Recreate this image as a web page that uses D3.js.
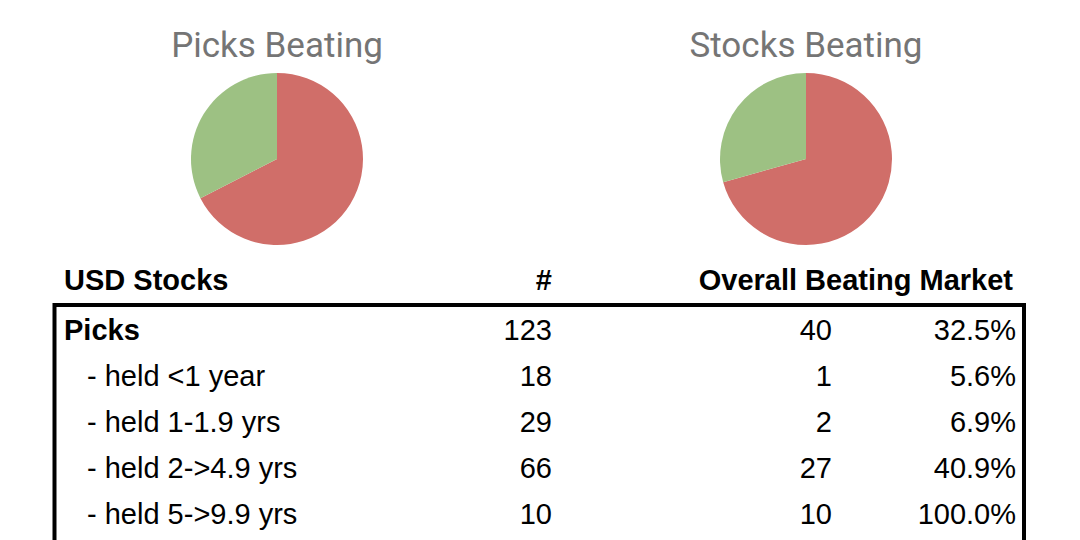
<!DOCTYPE html>
<html>
<head>
<meta charset="utf-8">
<script src="https://cdn.jsdelivr.net/npm/d3@7"></script>
<style>
  body { margin: 0; background: #fff; }
</style>
</head>
<body>
<svg id="chart" width="1080" height="540"></svg>
<script>
// pie charts: [not beating, beating]
const pieTitles = ["Picks Beating", "Stocks Beating"];
const picksSplit = [83, 40];
const stocksSplit = [65, 27];

// table
const headerLabels = ["USD Stocks", "#", "Overall Beating Market"];
const rowLabels = ["Picks", "- held <1 year", "- held 1-1.9 yrs", "- held 2->4.9 yrs", "- held 5->9.9 yrs"];
const rowCounts = [123, 18, 29, 66, 10];
const rowBeating = [40, 1, 2, 27, 10];

var svg = d3.select("#chart");
const W = +svg.attr("width");
const H = +svg.attr("height");

var sliceColor = d3.scaleOrdinal().domain([0, 1]).range(["#d06e69", "#9dc183"]);
var pie = d3.pie().sort(null).value((d) => d);
var arc = d3.arc().innerRadius(0).outerRadius(86);

// pie positions
var pieX = d3.scalePoint().domain(pieTitles).range([277, 806]);

[picksSplit, stocksSplit].forEach(function (split, i) {
  var g = svg.append("g").attr("transform", "translate(" + pieX(pieTitles[i]) + ",159)");
  g.selectAll("path")
    .data(pie(split))
    .enter()
    .append("path")
    .attr("d", arc)
    .attr("fill", (d, j) => sliceColor(j));
  svg.append("text")
    .attr("x", pieX(pieTitles[i]))
    .attr("y", 57)
    .attr("text-anchor", "middle")
    .attr("font-family", "Roboto")
    .attr("font-size", "35px")
    .attr("fill", "#757575")
    .text(pieTitles[i]);
});

// table layout
const font = "'Liberation Sans', Arial, sans-serif";
var rowY = d3.scaleLinear().domain([0, 1]).range([340, 386]);
var pct = d3.format(".1%");

var head = svg.append("g").attr("font-family", font).attr("font-size", "29px").attr("font-weight", "bold");
head.append("text").attr("x", 64).attr("y", 290).text(headerLabels[0]);
head.append("text").attr("x", 552).attr("y", 290).attr("text-anchor", "end").text(headerLabels[1]);
head.append("text").attr("x", 1013).attr("y", 290).attr("text-anchor", "end").text(headerLabels[2]);

// border (open at the bottom)
svg.append("path")
  .attr("d", "M54.5," + H + "V305H1024V" + H)
  .attr("fill", "none")
  .attr("stroke", "#000")
  .attr("stroke-width", 4);

var rows = svg.append("g").attr("font-family", font).attr("font-size", "29px")
  .selectAll("g")
  .data(rowLabels)
  .enter()
  .append("g")
  .attr("transform", (d, i) => "translate(0," + rowY(i) + ")");

rows.append("text")
  .attr("x", (d, i) => (i === 0 ? 64 : 87))
  .attr("font-weight", (d, i) => (i === 0 ? "bold" : "normal"))
  .text((d) => d);
rows.append("text")
  .attr("x", 552)
  .attr("text-anchor", "end")
  .text((d, i) => rowCounts[i]);
rows.append("text")
  .attr("x", 832)
  .attr("text-anchor", "end")
  .text((d, i) => rowBeating[i]);
rows.append("text")
  .attr("x", 1016)
  .attr("text-anchor", "end")
  .text((d, i) => pct(rowBeating[i] / rowCounts[i]));
</script>
</body>
</html>
